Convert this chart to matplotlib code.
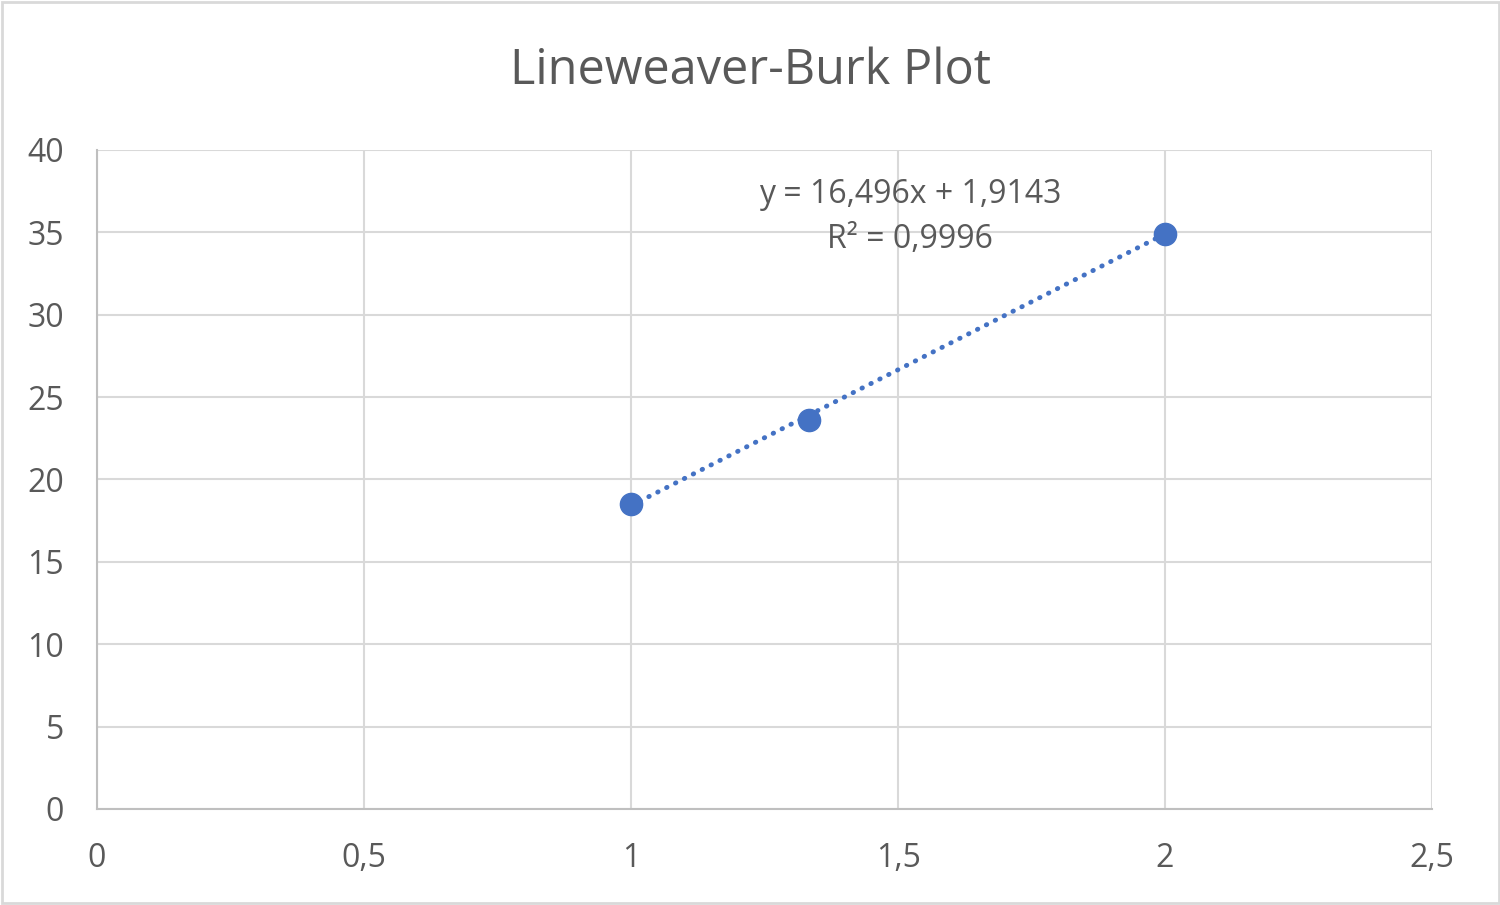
import numpy as np
import matplotlib.pyplot as plt
from matplotlib.patches import Rectangle
from matplotlib.ticker import FuncFormatter

plt.rcParams['font.family'] = ['Open Sans', 'DejaVu Sans']

# data (1/[S] vs 1/v)
x_vals = [1.0, 1.333, 2.0]
y_vals = [18.5, 23.6, 34.9]
slope, intercept = 16.496, 1.9143
r_squared = 0.9996

text_col = '#595959'
blue = '#4472C4'

fig = plt.figure(figsize=(15, 9.05), dpi=100)
ax = fig.add_axes([0.0647, 0.1061, 0.89, 0.7282])

# trendline
tx = np.array([min(x_vals), max(x_vals)])
ax.plot(tx, slope * tx + intercept, color=blue, lw=3.5,
        linestyle=(0, (0.1, 1.95)), dash_capstyle='round', zorder=2)
ax.plot(x_vals, y_vals, 'o', color=blue, markersize=16, zorder=3)

ax.set_xlim(0, 2.5)
ax.set_ylim(0, 40)
ax.set_xticks(np.arange(0, 2.51, 0.5))
ax.set_yticks(np.arange(0, 41, 5))

comma = FuncFormatter(lambda v, p: ('%g' % v).replace('.', ','))
ax.xaxis.set_major_formatter(comma)
ax.yaxis.set_major_formatter(comma)

ax.grid(True, color='#d9d9d9', lw=1.5)
ax.set_axisbelow(True)
for s in ['top', 'right']:
    ax.spines[s].set_visible(False)
for s in ['left', 'bottom']:
    ax.spines[s].set_color('#bfbfbf')
    ax.spines[s].set_linewidth(1.5)
ax.tick_params(length=0, labelsize=23, labelcolor=text_col)
ax.tick_params(axis='x', pad=24)
ax.tick_params(axis='y', pad=24)

eq = 'y = %sx + %s' % (('%g' % slope).replace('.', ','), ('%g' % intercept).replace('.', ','))
r2 = 'R² = %s' % ('%g' % r_squared).replace('.', ',')
ax.text(1.522, 37.3, eq, ha='center', va='center', fontsize=23, color=text_col)
ax.text(1.522, 34.55, r2, ha='center', va='center', fontsize=23, color=text_col)

fig.text(0.5, 0.921, 'Lineweaver-Burk Plot', ha='center', va='center',
         fontsize=35, color=text_col)

fig.patches.append(Rectangle((0.001, 0.002), 0.998, 0.996, transform=fig.transFigure,
                             fill=False, edgecolor='#d9d9d9', lw=2))

fig.savefig('out.png', dpi=100)
